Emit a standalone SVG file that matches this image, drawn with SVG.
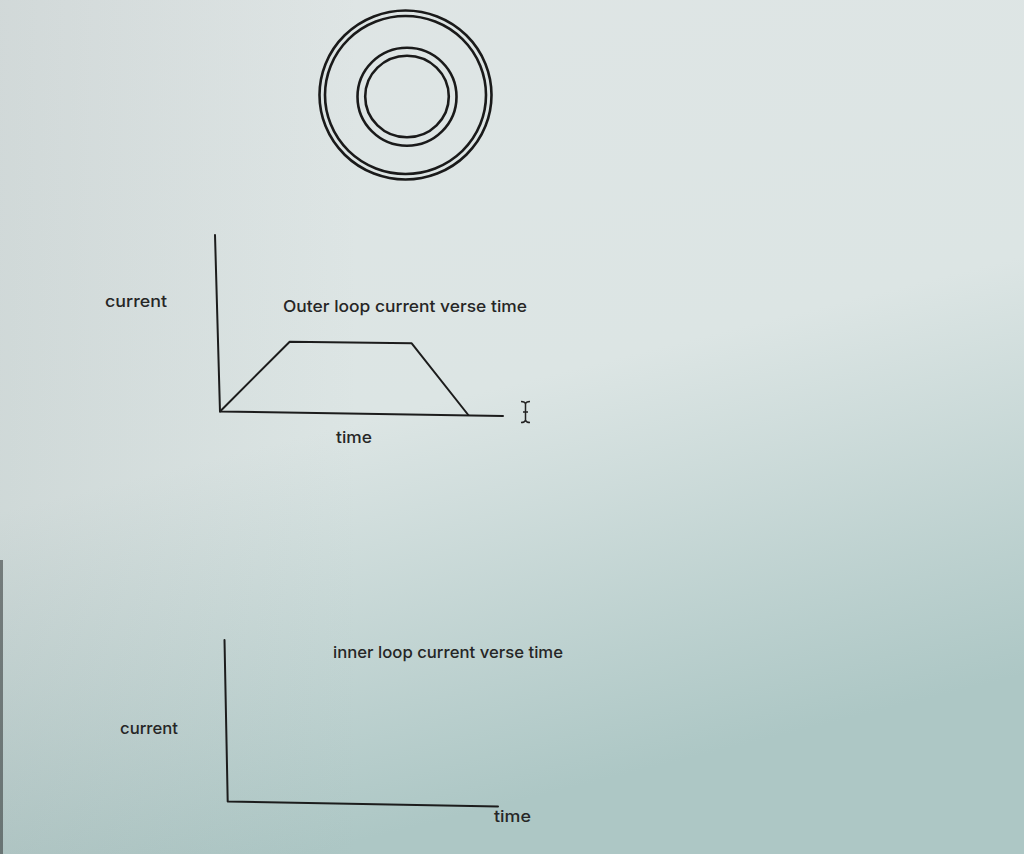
<svg xmlns="http://www.w3.org/2000/svg" width="1024" height="854" viewBox="0 0 1024 854">
<defs>
<linearGradient id="bgv" x1="0" y1="0" x2="0.3" y2="1">
<stop offset="0" stop-color="#dfe5e5"/>
<stop offset="0.55" stop-color="#dce5e4"/>
<stop offset="1" stop-color="#adc7c5"/>
</linearGradient>
<linearGradient id="bgh" x1="0" y1="0" x2="1" y2="0">
<stop offset="0" stop-color="#8a9898" stop-opacity="0.16"/>
<stop offset="0.35" stop-color="#8a9898" stop-opacity="0"/>
<stop offset="1" stop-color="#ffffff" stop-opacity="0"/>
</linearGradient>
<style>
.ln{fill:none;stroke:#1c1c1c;stroke-width:2;stroke-linejoin:round;stroke-linecap:round}
.ring{fill:none;stroke:#1a1a1a;stroke-width:2.6}
.tx{font-family:"Inter","Liberation Sans",sans-serif;font-size:16.5px;font-weight:500;fill:#262626}
</style>
</defs>
<rect width="1024" height="854" fill="url(#bgv)"/>
<rect width="1024" height="854" fill="url(#bgh)"/>
<rect x="0" y="560" width="3" height="294" fill="#3a3f3f" opacity="0.6"/>

<g id="rings">
<ellipse class="ring" cx="405.5" cy="95" rx="86" ry="84.5"/>
<ellipse class="ring" cx="405.5" cy="95" rx="80.5" ry="79"/>
<ellipse class="ring" cx="407" cy="96.7" rx="49.5" ry="49"/>
<ellipse class="ring" cx="407" cy="96.5" rx="41.8" ry="40.8"/>
</g>

<g id="outer-graph">
<path class="ln" d="M215 235 L220 411.5 L503 416"/>
<path class="ln" d="M220 411.5 L289.7 341.7 L411.7 343.3 L468.3 415"/>
<text class="tx" x="105" y="307" textLength="62" lengthAdjust="spacingAndGlyphs">current</text>
<text class="tx" x="283" y="312" textLength="244" lengthAdjust="spacingAndGlyphs">Outer loop current verse time</text>
<text class="tx" x="336" y="443" textLength="36" lengthAdjust="spacingAndGlyphs">time</text>
</g>

<g id="cursor">
<path d="M521 401.5 Q525 401.5 525.5 404 Q526 401.5 530 401.5 M525.5 404 L525.5 420 M521 422.5 Q525 422.5 525.5 420 Q526 422.5 530 422.5 M523 412 L528 412" fill="none" stroke="#222" stroke-width="1.5"/>
</g>

<g id="inner-graph">
<path class="ln" d="M224.5 640 L227.7 801.5 L498 806.5"/>
<text class="tx" x="333" y="658" textLength="230" lengthAdjust="spacingAndGlyphs">inner loop current verse time</text>
<text class="tx" x="120" y="734" textLength="58" lengthAdjust="spacingAndGlyphs">current</text>
<text class="tx" x="494" y="822" textLength="37" lengthAdjust="spacingAndGlyphs">time</text>
</g>
</svg>
